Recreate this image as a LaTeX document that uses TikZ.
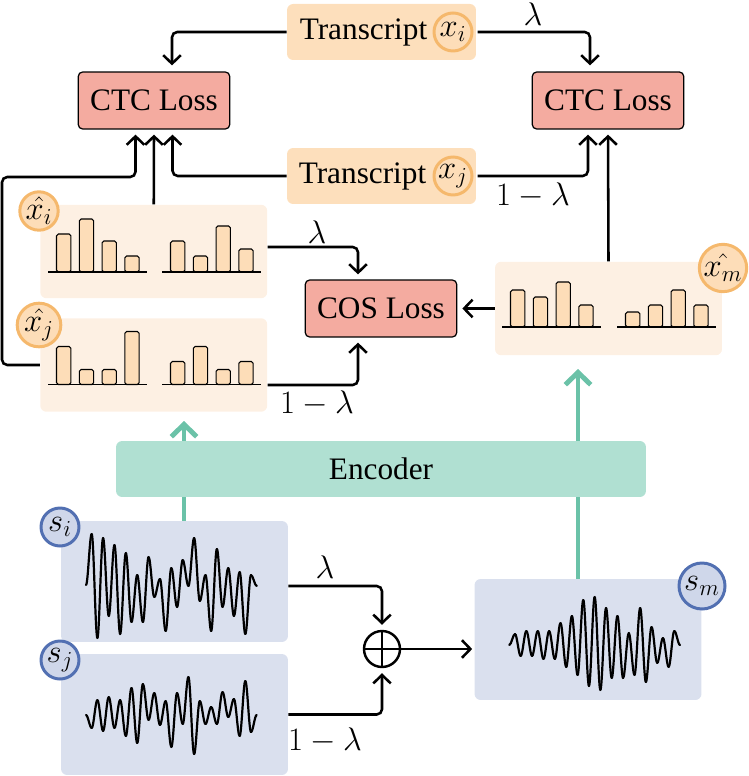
\RequirePackage{fix-cm}
\documentclass[tikz,border=0pt]{standalone}
\usepackage{amsmath}
\usepackage[no-math]{fontspec}
\setmainfont{Liberation Serif}
\usepackage{xcolor}
\usepackage{tikz}
\usetikzlibrary{positioning,calc,arrows.meta}

\definecolor{lossred}{HTML}{F4ABA0}
\definecolor{transorange}{HTML}{FDDFBC}
\definecolor{featorange}{HTML}{FDF0E3}
\definecolor{barorange}{HTML}{FDDDB8}
\definecolor{ringorange}{HTML}{F5B86C}
\definecolor{sigblue}{HTML}{DAE0EE}
\definecolor{badgeblue}{HTML}{CFD7EA}
\definecolor{ringblue}{HTML}{5270B2}
\definecolor{encgreen}{HTML}{B0E0D2}
\definecolor{arrowgreen}{HTML}{6BC2A8}

\tikzset{
  every node/.style={font=\fontsize{17.8}{20}\selectfont},
  weight/.style={font=\fontsize{18.6}{20}\selectfont},
  loss/.style={draw=black,line width=0.7pt,fill=lossred,rounded corners=2.5pt,
    minimum width=3.03cm,minimum height=1.14cm,inner sep=0pt},
  trans/.style={fill=transorange,rounded corners=3.5pt,
    minimum width=3.78cm,minimum height=1.12cm,inner sep=0pt},
  feat/.style={fill=featorange,rounded corners=3.5pt,
    minimum width=4.54cm,minimum height=1.87cm,inner sep=0pt},
  sig/.style={fill=sigblue,rounded corners=3.5pt,
    minimum width=4.54cm,minimum height=2.42cm,inner sep=0pt},
  enc/.style={fill=encgreen,rounded corners=3.5pt,
    minimum width=10.6cm,minimum height=1.12cm,inner sep=0pt},
  obadge/.style={circle,draw=ringorange,line width=1.7pt,fill=barorange,inner sep=0pt,weight},
  bbadge/.style={circle,draw=ringblue,line width=1.7pt,fill=badgeblue,inner sep=0pt,weight},
  conn/.style={line width=1.45pt,rounded corners=3pt,-{Straight Barb[length=4.8pt,width=10pt,line width=1.45pt]}},
  up/.style={line width=2.8pt,arrowgreen,-{Straight Barb[length=7pt,width=14.5pt,line width=2.8pt]}},
  bar/.style={draw=black,line width=0.6pt,fill=barorange,rounded corners=1pt},
  wave/.style={line width=1.25pt,line cap=round},
}

\begin{document}
\begin{tikzpicture}[x=0.02cm,y=-0.02cm]
  \useasboundingbox (0,0) rectangle (749,776);

  % #1, #2 is start of baseline
  % #3 to #6 are bar heights
  \newcommand{\drawbars}[6]{
    \def\bx{#1}
    \def\by{#2}
    \foreach \i/\h in {0/#3,1/#4,2/#5,3/#6} {
      \path[bar] ({\bx+8.5+22.8*\i},\by) rectangle ({\bx+22.8+22.8*\i},{\by-\h});
    }
    \draw[line width=0.7pt] (\bx,\by) -- ({\bx+98.5},\by);
  }

  % #1 is x of first point
  % #2 is list of extrema, y values
  \newcommand{\drawwave}[2]{
    \foreach \y [count=\n, remember=\y as \yp] in {#2} {
      \ifnum\n>1
        \draw[wave] ({#1+5.69*(\n-2)},\yp) .. controls ({#1+5.69*(\n-2)+2},\yp) and ({#1+5.69*(\n-1)-2},\y) .. ({#1+5.69*(\n-1)},\y);
      \fi
    }
  }

  % free ends of the two encoder arrows
  \coordinate (tip-i) at (184,421);
  \coordinate (tip-m) at (578,369);

  % panels
  \node[sig] (sig-i) at (174.5,581.5) {};
  \node[sig] (sig-j) at (174.5,714.5) {};
  \node[sig] (sig-m) at (588,639.5) {};

  \node[feat] (feat-i) at (153.75,251.5) {};
  \node[feat] (feat-j) at (153.75,365) {};
  \node[feat] (feat-m) at (608.5,308.5) {};

  % encoder goes over the arrows
  \draw[up] (sig-i.north -| tip-i) -- (tip-i);
  \draw[up] (sig-m.north -| tip-m) -- (tip-m);
  \node[enc] (enc) at (381,469) {Encoder};

  \node[loss] (ctc-l) at (154,100.5) {CTC Loss};
  \node[loss] (ctc-r) at (608,100.5) {CTC Loss};
  \node[loss] (cos) at (381,308.5) {COS Loss};

  \node[trans] (tr-i) at (381.5,32) {};
  \node[trans] (tr-j) at (381.5,176) {};
  \node (tr-i-text) at (363.5,32) {Transcript};
  \node (tr-j-text) at (362.5,176) {Transcript};

  \node[circle,draw=black,line width=1.4pt,minimum size=0.72cm,inner sep=0pt,
    path picture={
      \draw[line width=1.4pt] (path picture bounding box.north) -- (path picture bounding box.south);
      \draw[line width=1.4pt] (path picture bounding box.west) -- (path picture bounding box.east);
    }] (plus) at (382,649) {};

  % bars
  \drawbars{48}{272}{38}{53}{31}{16}
  \drawbars{162}{272}{31}{16}{46}{23}
  \drawbars{48}{384.5}{38}{15}{15}{53}
  \drawbars{162}{384.5}{23}{38}{15}{23}
  \drawbars{502}{327}{37}{30}{45}{22}
  \drawbars{617}{327}{15}{22}{37}{22}

  % waves
  \drawwave{86}{585,534,638,538,616,545,634,553,622,575,622,557,597,579,631,568,607,560,586,538,601,575,631,549,607,568,616,572,634,575,586}
  \drawwave{86}{715,728,700,731,697,728,700,736,688,743,684,720,693,725,701,747,693,724,677,754,701,724,707,724,692,717,699,736,681,732,715}
  \drawwave{509.3}{645,634,656,631,656,631,659,631,659,623,667,616,675,600,686,597,690,608,678,616,678,633,675,608,682,627,663,638,667,631,645}

  % badges
  \node[obadge,minimum size=0.76cm] (b-xi) at (453,32) {$x_i$};
  \node[obadge,minimum size=0.76cm] (b-xj) at (453,176) {$x_j$};
  \node[obadge,minimum size=0.76cm] (b-hi) at (39,211) {$\hat{x_i}$};
  \node[obadge,minimum size=0.76cm] (b-hj) at (39,325) {$\hat{x_j}$};
  \node[obadge,minimum size=0.92cm] (b-hm) at (723,268) {$\hat{x_m}$};
  \node[bbadge,minimum size=0.76cm] (b-si) at (60,527) {$s_i$};
  \node[bbadge,minimum size=0.76cm] (b-sj) at (60,660) {$s_j$};
  \node[bbadge,minimum size=0.92cm] (b-sm) at (702,586) {$s_m$};

  % transcripts to ctc
  \coordinate (ctc-l-a) at ($(ctc-l.south)+(-18.5,5)$);
  \coordinate (ctc-l-b) at ($(ctc-l.south)+(0,5)$);
  \coordinate (ctc-l-c) at ($(ctc-l.south)+(18.5,5)$);
  \coordinate (ctc-l-t) at ($(ctc-l.north)+(18,-6)$);
  \coordinate (ctc-r-t) at ($(ctc-r.north)+(-18,-6)$);
  \coordinate (ctc-r-a) at ($(ctc-r.south)+(-20,5)$);
  \coordinate (ctc-r-b) at ($(ctc-r.south)+(0,5)$);

  \draw[conn] (tr-i.west) -| (ctc-l-t);
  \draw[conn] (b-xi.east) ++(4,0) -| (ctc-r-t);
  \draw[conn] (tr-j.west) -| (ctc-l-c);
  \draw[conn] (b-xj.east) ++(4,0) -| (ctc-r-a);

  \draw[conn] (feat-j.west) -- (2,365) -- (2,177) -- (135.5,177) -- (ctc-l-a);
  \draw[conn] (feat-i.north) -- (ctc-l-b);
  \draw[conn] (feat-m.north) -- (ctc-r-b);

  % features to cos
  \coordinate (cos-t) at ($(cos.north)+(-23,-5)$);
  \coordinate (cos-b) at ($(cos.south)+(-23,5)$);
  \draw[conn] ($(feat-i.east)+(0,-4.5)$) -| (cos-t);
  \draw[conn] ($(feat-j.east)+(0,20)$) -| (cos-b);
  \draw[conn] (feat-m.west) -- ($(cos.east)+(5,0)$);

  % signals to mix
  \draw[conn] ($(sig-i.east)+(0,4.5)$) -| ($(plus.north)+(0,-5)$);
  \draw[conn] (sig-j.east) -| ($(plus.south)+(0,5)$);
  \draw[conn] (plus.east) -- ($(sig-m.west |- plus)+(-2,0)$);

  % weights
  \node[weight] (w-1) at (533,14) {$\lambda$};
  \node[weight] (w-2) at (533,196) {$1-\lambda$};
  \node[weight] (w-3) at (317,232) {$\lambda$};
  \node[weight] (w-4) at (317,404) {$1-\lambda$};
  \node[weight] (w-5) at (325,567) {$\lambda$};
  \node[weight] (w-6) at (325,741) {$1-\lambda$};
\end{tikzpicture}
\end{document}
